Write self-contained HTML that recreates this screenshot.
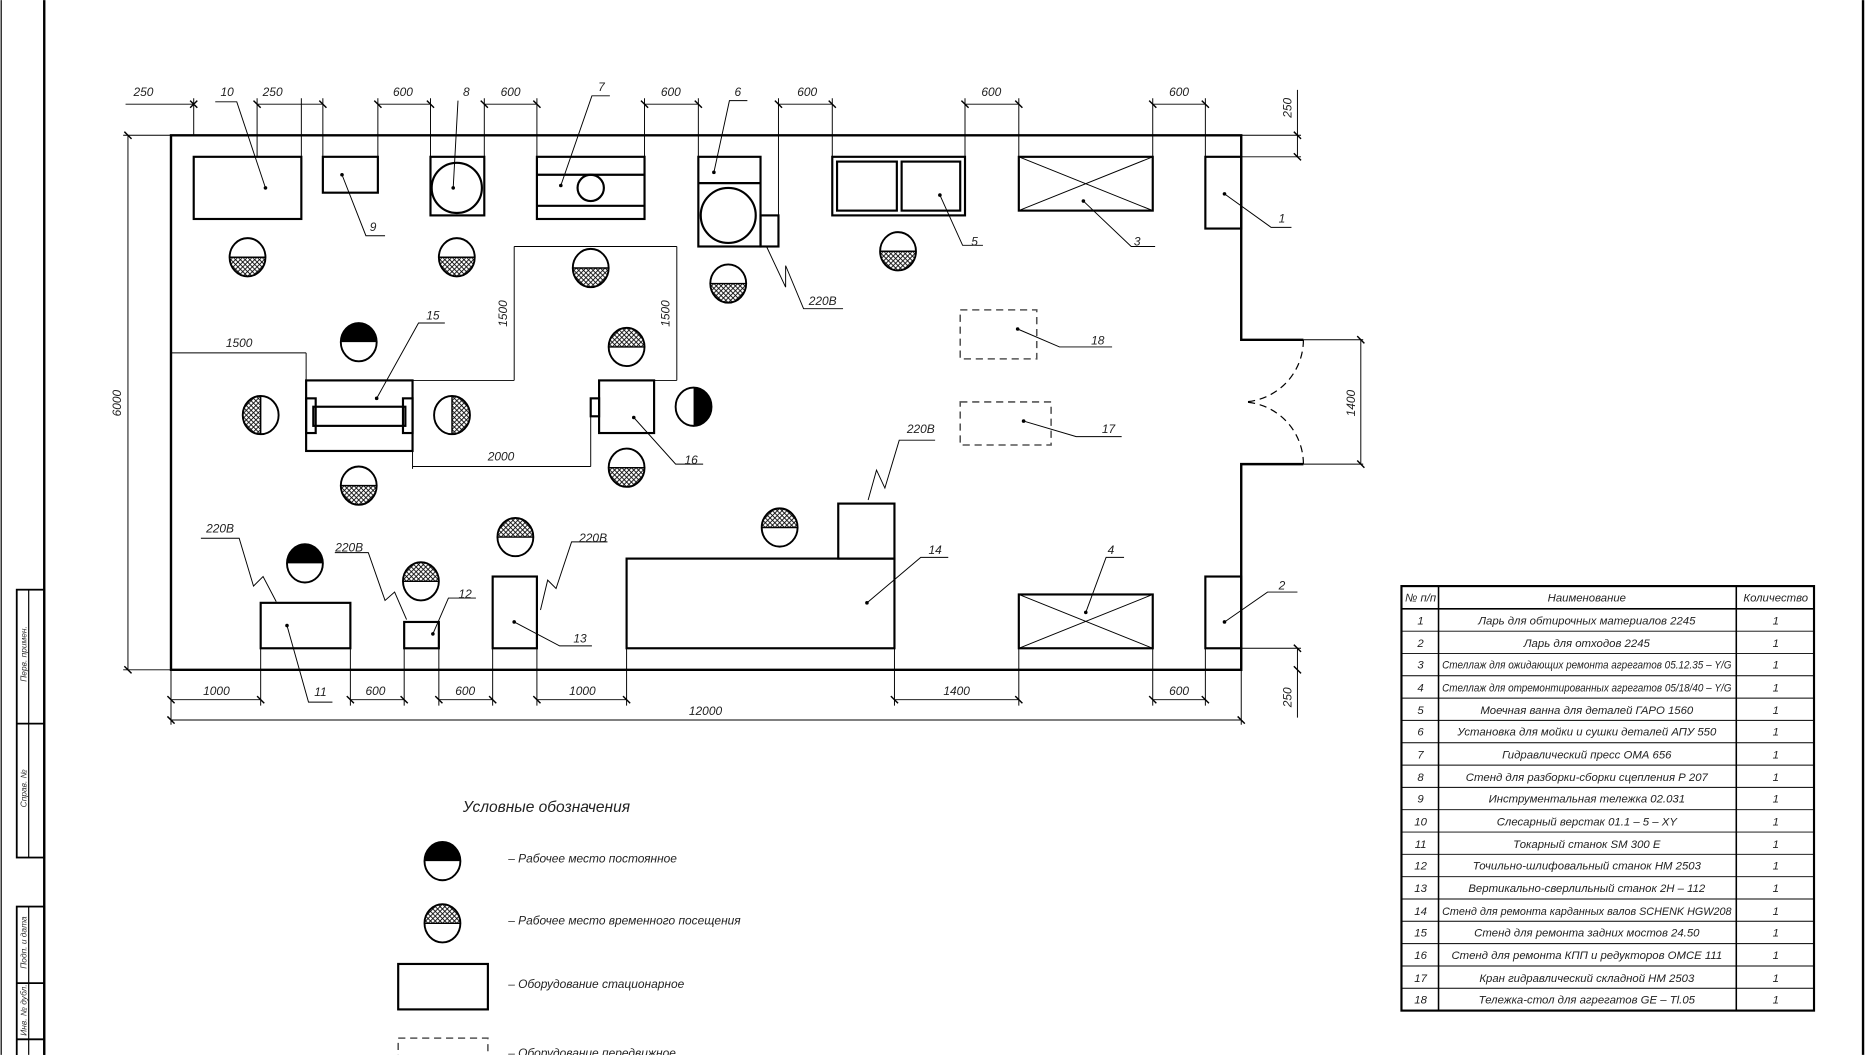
<!DOCTYPE html>
<html><head><meta charset="utf-8"><style>html,body{margin:0;padding:0;background:#fff}svg{display:block}</style></head><body>
<svg width="1875" height="1055" viewBox="0 0 1568 882" xmlns="http://www.w3.org/2000/svg" font-family="Liberation Sans, sans-serif" font-style="italic">
<defs>
<pattern id="h" width="4" height="4" patternUnits="userSpaceOnUse"><path d="M0 0L4 4M4 0L0 4" stroke="#000" stroke-width="0.7"/></pattern>
<clipPath id="ct"><rect x="-20" y="-20" width="40" height="20"/></clipPath>
<clipPath id="cb"><rect x="-20" y="0" width="40" height="20"/></clipPath>
<clipPath id="cl"><rect x="-20" y="-20" width="20" height="40"/></clipPath>
<clipPath id="cr"><rect x="0" y="-20" width="20" height="40"/></clipPath>
<g id="wb"><ellipse rx="15" ry="16" fill="url(#h)" clip-path="url(#cb)"/><ellipse rx="15" ry="16" fill="none" stroke="#000" stroke-width="1.6"/><line x1="-15" y1="0" x2="15" y2="0" stroke="#000" stroke-width="1.2"/></g>
<g id="wt"><ellipse rx="15" ry="16" fill="url(#h)" clip-path="url(#ct)"/><ellipse rx="15" ry="16" fill="none" stroke="#000" stroke-width="1.6"/><line x1="-15" y1="0" x2="15" y2="0" stroke="#000" stroke-width="1.2"/></g>
<g id="wl"><ellipse rx="15" ry="16" fill="url(#h)" clip-path="url(#cl)"/><ellipse rx="15" ry="16" fill="none" stroke="#000" stroke-width="1.6"/><line x1="0" y1="-16" x2="0" y2="16" stroke="#000" stroke-width="1.2"/></g>
<g id="wr"><ellipse rx="15" ry="16" fill="url(#h)" clip-path="url(#cr)"/><ellipse rx="15" ry="16" fill="none" stroke="#000" stroke-width="1.6"/><line x1="0" y1="-16" x2="0" y2="16" stroke="#000" stroke-width="1.2"/></g>
<g id="bt"><ellipse rx="15" ry="16" fill="#000" clip-path="url(#ct)"/><ellipse rx="15" ry="16" fill="none" stroke="#000" stroke-width="1.6"/></g>
<g id="br"><ellipse rx="15" ry="16" fill="#000" clip-path="url(#cr)"/><ellipse rx="15" ry="16" fill="none" stroke="#000" stroke-width="1.6"/></g>
</defs>
<!-- frame -->
<g stroke="#000" fill="none">
<line x1="1" y1="0" x2="1" y2="882" stroke-width="1"/>
<line x1="37" y1="0" x2="37" y2="882" stroke-width="2"/>
<line x1="1558" y1="0" x2="1558" y2="882" stroke-width="2"/>
<rect x="14" y="493" width="23" height="224" stroke-width="1.5"/>
<line x1="14" y1="605" x2="37" y2="605" stroke-width="1.5"/>
<line x1="24" y1="493" x2="24" y2="717"/>
<rect x="14" y="758" width="23" height="130" stroke-width="1.5"/>
<line x1="14" y1="822" x2="37" y2="822" stroke-width="1.5"/>
<line x1="14" y1="869" x2="37" y2="869" stroke-width="1.5"/>
<line x1="24" y1="758" x2="24" y2="882"/>
</g>
<g font-size="7" fill="#333">
<text transform="translate(22,570) rotate(-90)">Перв. примен.</text>
<text transform="translate(22,675) rotate(-90)">Справ. №</text>
<text transform="translate(22,810) rotate(-90)">Подп. и дата</text>
<text transform="translate(22,866) rotate(-90)">Инв. № дубл.</text>
</g>
<!-- walls -->
<g stroke="#000" fill="none" stroke-width="2">
<polyline points="1090,284 1038,284 1038,113 143,113 143,560 1038,560 1038,388 1090,388"/>
</g>
<g stroke="#000" fill="none" stroke-width="1" stroke-dasharray="6,4">
<path d="M1090 284 A52 52 0 0 1 1040 336"/>
<path d="M1090 388 A52 52 0 0 0 1040 336"/>
</g>
<!-- equipment -->
<g stroke="#000" fill="none" stroke-width="1.8">
<rect x="162" y="131" width="90" height="52"/>
<rect x="270" y="131" width="46" height="30"/>
<rect x="360" y="131" width="45" height="49"/><circle cx="382" cy="157" r="21"/>
<rect x="449" y="131" width="90" height="52"/><line x1="449" y1="146" x2="539" y2="146"/><line x1="449" y1="172" x2="539" y2="172"/><circle cx="494" cy="157" r="11"/>
<rect x="584" y="131" width="52" height="75"/><line x1="584" y1="153" x2="636" y2="153"/><circle cx="609" cy="180" r="23"/><rect x="636" y="180" width="15" height="26"/>
<rect x="696" y="131" width="111" height="49"/><rect x="700" y="135" width="50" height="41"/><rect x="754" y="135" width="49" height="41"/>
<rect x="852" y="131" width="112" height="45"/>
<rect x="1008" y="131" width="30" height="60"/>
<rect x="256" y="318" width="89" height="59"/><rect x="262" y="340" width="77" height="16"/><rect x="256" y="333" width="8" height="29"/><rect x="337" y="333" width="8" height="29"/>
<rect x="501" y="318" width="46" height="44"/><rect x="494" y="333" width="7" height="15"/>
<rect x="524" y="467" width="224" height="75"/><rect x="701" y="421" width="47" height="46"/>
<rect x="852" y="497" width="112" height="45"/>
<rect x="1008" y="482" width="30" height="60"/>
<rect x="218" y="504" width="75" height="38"/>
<rect x="338" y="520" width="29" height="22"/>
<rect x="412" y="482" width="37" height="60"/>
<rect x="333" y="806" width="75" height="38"/>
</g>
<g stroke="#000" stroke-width="0.8"><path d="M852 131L964 176M964 131L852 176M852 497L964 542M964 497L852 542"/></g>
<g stroke="#555" fill="none" stroke-width="1.3" stroke-dasharray="6,4">
<rect x="803" y="259" width="64" height="41"/><rect x="803" y="336" width="76" height="36"/>
<rect x="333" y="868" width="75" height="30"/>
</g>
<!-- workplaces -->
<use href="#wb" x="207" y="215"/><use href="#wb" x="382" y="215"/><use href="#wb" x="494" y="224"/><use href="#wb" x="609" y="237"/><use href="#wb" x="751" y="210"/>
<use href="#wb" x="300" y="406"/><use href="#wb" x="524" y="391"/><use href="#wt" x="431" y="449"/><use href="#wt" x="652" y="441"/><use href="#wt" x="352" y="486"/>
<use href="#wt" x="524" y="290"/><use href="#wl" x="218" y="347"/><use href="#wr" x="378" y="347"/>
<use href="#bt" x="300" y="286"/><use href="#bt" x="255" y="471"/><use href="#br" x="580" y="340"/>
<use href="#bt" x="370" y="720"/><use href="#wt" x="370" y="772"/>
<!-- dimension lines -->
<g stroke="#000" stroke-width="0.8" fill="none">
<path d="M105 87H162M215 87H270M316 87H360M405 87H449M539 87H584M651 87H696M807 87H852M964 87H1008"/>
<path d="M162 82V113M215 82V131M252 82V131M270 82V131M316 82V131M360 82V131M405 82V131M449 82V131M539 82V131M584 82V131M651 82V206M696 82V131M807 82V131M852 82V131M964 82V131M1008 82V131"/>
<path d="M1085 75V131M1038 113H1088M1038 131H1088"/>
<path d="M107 113V560M103 113H143M103 560H143"/>
<path d="M1138 284V388M1090 284H1140M1090 388H1140"/>
<path d="M143 585H218M293 585H338M367 585H412M449 585H524M748 585H852M964 585H1008M143 602H1038"/>
<path d="M143 560V606M218 542V590M293 542V590M338 542V590M367 542V590M412 542V590M449 542V590M524 542V590M748 542V590M852 542V590M964 542V590M1008 542V590M1038 560V606"/>
<path d="M1085 542V600M1038 542H1088"/>
<path d="M143 295H256M256 295V318M430 206V318M430 206H566M566 206V318M345 318H430M547 318H566M345 390H494M494 348V390M345 377V392"/>
</g>
<g stroke="#000" stroke-width="1.2">
<path d="M159 84l6 6M159 90l6-6M212 84l6 6M267 84l6 6M313 84l6 6M357 84l6 6M402 84l6 6M446 84l6 6M536 84l6 6M581 84l6 6M648 84l6 6M693 84l6 6M804 84l6 6M849 84l6 6M961 84l6 6M1005 84l6 6"/>
<path d="M140 582l6 6M215 582l6 6M290 582l6 6M335 582l6 6M364 582l6 6M409 582l6 6M446 582l6 6M521 582l6 6M745 582l6 6M849 582l6 6M961 582l6 6M1005 582l6 6M140 599l6 6M1035 599l6 6"/>
<path d="M1082 110l6 6M1082 128l6 6M104 110l6 6M104 557l6 6M1135 281l6 6M1135 385l6 6M1082 539l6 6M1082 557l6 6"/>
</g>
<!-- leaders -->
<g stroke="#000" stroke-width="0.8" fill="none">
<path d="M222 157L198 85H180M286 146L306 197H322M379 157L383 84M469 155L495 80H510M597 144L610 84H625M786 163L805 205H822M906 168L946 206H966M1024 162L1063 190H1080M851 275L886 290H930M856 352L900 365H938M315 333L350 270H372M530 349L565 388H588M725 504L770 466H793M908 512L925 466H940M1024 520L1060 495H1085M240 523L258 587H278M362 530L375 500H398M430 520L468 540H495"/>
<path d="M641 206L657 240L657 222L672 258H705M726 418L733 393L740 408L752 368H782M231 503L220 482L212 490L200 450H168M340 518L330 495L322 502L308 462H280M452 510L458 485L465 492L478 453H508"/>
</g>
<g fill="#000">
<circle cx="222" cy="157" r="1.5"/><circle cx="286" cy="146" r="1.5"/><circle cx="379" cy="157" r="1.5"/><circle cx="469" cy="155" r="1.5"/><circle cx="597" cy="144" r="1.5"/><circle cx="786" cy="163" r="1.5"/><circle cx="906" cy="168" r="1.5"/><circle cx="1024" cy="162" r="1.5"/><circle cx="851" cy="275" r="1.5"/><circle cx="856" cy="352" r="1.5"/><circle cx="315" cy="333" r="1.5"/><circle cx="530" cy="349" r="1.5"/><circle cx="725" cy="504" r="1.5"/><circle cx="908" cy="512" r="1.5"/><circle cx="1024" cy="520" r="1.5"/><circle cx="240" cy="523" r="1.5"/><circle cx="362" cy="530" r="1.5"/><circle cx="430" cy="520" r="1.5"/>
</g>
<!-- labels -->
<g font-size="10" fill="#222" text-anchor="middle">
<text x="120" y="80">250</text><text x="190" y="80">10</text><text x="228" y="80">250</text><text x="337" y="80">600</text><text x="390" y="80">8</text><text x="427" y="80">600</text><text x="503" y="76">7</text><text x="561" y="80">600</text><text x="617" y="80">6</text><text x="675" y="80">600</text><text x="829" y="80">600</text><text x="986" y="80">600</text>
<text x="312" y="193">9</text><text x="815" y="205">5</text><text x="951" y="205">3</text><text x="1072" y="186">1</text><text x="918" y="288">18</text><text x="927" y="362">17</text><text x="362" y="267">15</text><text x="578" y="388">16</text><text x="782" y="463">14</text><text x="929" y="463">4</text><text x="1072" y="493">2</text><text x="268" y="582">11</text><text x="389" y="500">12</text><text x="485" y="537">13</text>
<text x="688" y="255">220В</text><text x="770" y="362">220В</text><text x="184" y="445">220В</text><text x="292" y="461">220В</text><text x="496" y="453">220В</text>
<text x="200" y="290">1500</text><text x="419" y="385">2000</text>
<text x="181" y="581">1000</text><text x="314" y="581">600</text><text x="389" y="581">600</text><text x="487" y="581">1000</text><text x="800" y="581">1400</text><text x="986" y="581">600</text><text x="590" y="598">12000</text>
<text transform="translate(424,262) rotate(-90)">1500</text><text transform="translate(560,262) rotate(-90)">1500</text>
<text transform="translate(101,337) rotate(-90)">6000</text><text transform="translate(1133,337) rotate(-90)">1400</text>
<text transform="translate(1080,90) rotate(-90)">250</text><text transform="translate(1080,583) rotate(-90)">250</text>
</g>
<!-- legend -->
<g fill="#222">
<text x="457" y="679" font-size="13" text-anchor="middle">Условные обозначения</text>
<g font-size="10"><text x="425" y="721">– Рабочее место постоянное</text><text x="425" y="773">– Рабочее место временного посещения</text><text x="425" y="826">– Оборудование стационарное</text><text x="425" y="884">– Оборудование передвижное</text></g>
</g>
<!-- table -->
<g stroke="#000" fill="none">
<rect x="1172" y="490" width="345" height="355" stroke-width="1.8"/>
<line x1="1203" y1="490" x2="1203" y2="845" stroke-width="1.3"/><line x1="1452" y1="490" x2="1452" y2="845" stroke-width="1.3"/>
<line x1="1172" y1="509" x2="1517" y2="509" stroke-width="1.3"/>
<path stroke-width="0.8" d="M1172 527.7H1517M1172 546.3H1517M1172 565H1517M1172 583.7H1517M1172 602.3H1517M1172 621H1517M1172 639.7H1517M1172 658.3H1517M1172 677H1517M1172 695.7H1517M1172 714.3H1517M1172 733H1517M1172 751.7H1517M1172 770.3H1517M1172 789H1517M1172 807.7H1517M1172 826.3H1517"/>
</g>
<g font-size="9.5" fill="#222" text-anchor="middle">
<text x="1188" y="503">№ п/п</text><text x="1327" y="503">Наименование</text><text x="1485" y="503">Количество</text>
</g>
<g font-size="9.5" fill="#222">
<g text-anchor="middle">
<text x="1188" y="522">1</text><text x="1188" y="541">2</text><text x="1188" y="559">3</text><text x="1188" y="578">4</text><text x="1188" y="597">5</text><text x="1188" y="615">6</text><text x="1188" y="634">7</text><text x="1188" y="653">8</text><text x="1188" y="671">9</text><text x="1188" y="690">10</text><text x="1188" y="709">11</text><text x="1188" y="727">12</text><text x="1188" y="746">13</text><text x="1188" y="765">14</text><text x="1188" y="783">15</text><text x="1188" y="802">16</text><text x="1188" y="821">17</text><text x="1188" y="839">18</text>
<text x="1327" y="522">Ларь для обтирочных материалов 2245</text>
<text x="1327" y="541">Ларь для отходов 2245</text>
<text x="1327" y="559" textLength="242" lengthAdjust="spacingAndGlyphs">Стеллаж для ожидающих ремонта агрегатов 05.12.35 – Y/G</text>
<text x="1327" y="578" textLength="242" lengthAdjust="spacingAndGlyphs">Стеллаж для отремонтированных агрегатов 05/18/40 – Y/G</text>
<text x="1327" y="597">Моечная ванна для деталей ГАРО 1560</text>
<text x="1327" y="615">Установка для мойки и сушки деталей АПУ 550</text>
<text x="1327" y="634">Гидравлический пресс ОМА 656</text>
<text x="1327" y="653">Стенд для разборки-сборки сцепления Р 207</text>
<text x="1327" y="671">Инструментальная тележка 02.031</text>
<text x="1327" y="690">Слесарный верстак 01.1 – 5 – XY</text>
<text x="1327" y="709">Токарный станок SM 300 E</text>
<text x="1327" y="727">Точильно-шлифовальный станок HM 2503</text>
<text x="1327" y="746">Вертикально-сверлильный станок 2Н – 112</text>
<text x="1327" y="765" textLength="242" lengthAdjust="spacingAndGlyphs">Стенд для ремонта карданных валов SCHENK HGW208</text>
<text x="1327" y="783">Стенд для ремонта задних мостов 24.50</text>
<text x="1327" y="802">Стенд для ремонта КПП и редукторов OMCE 111</text>
<text x="1327" y="821">Кран гидравлический складной НМ 2503</text>
<text x="1327" y="839">Тележка-стол для агрегатов GE – Tl.05</text>
<text x="1485" y="522">1</text><text x="1485" y="541">1</text><text x="1485" y="559">1</text><text x="1485" y="578">1</text><text x="1485" y="597">1</text><text x="1485" y="615">1</text><text x="1485" y="634">1</text><text x="1485" y="653">1</text><text x="1485" y="671">1</text><text x="1485" y="690">1</text><text x="1485" y="709">1</text><text x="1485" y="727">1</text><text x="1485" y="746">1</text><text x="1485" y="765">1</text><text x="1485" y="783">1</text><text x="1485" y="802">1</text><text x="1485" y="821">1</text><text x="1485" y="839">1</text>
</g>
</g>
</svg>
</body></html>
